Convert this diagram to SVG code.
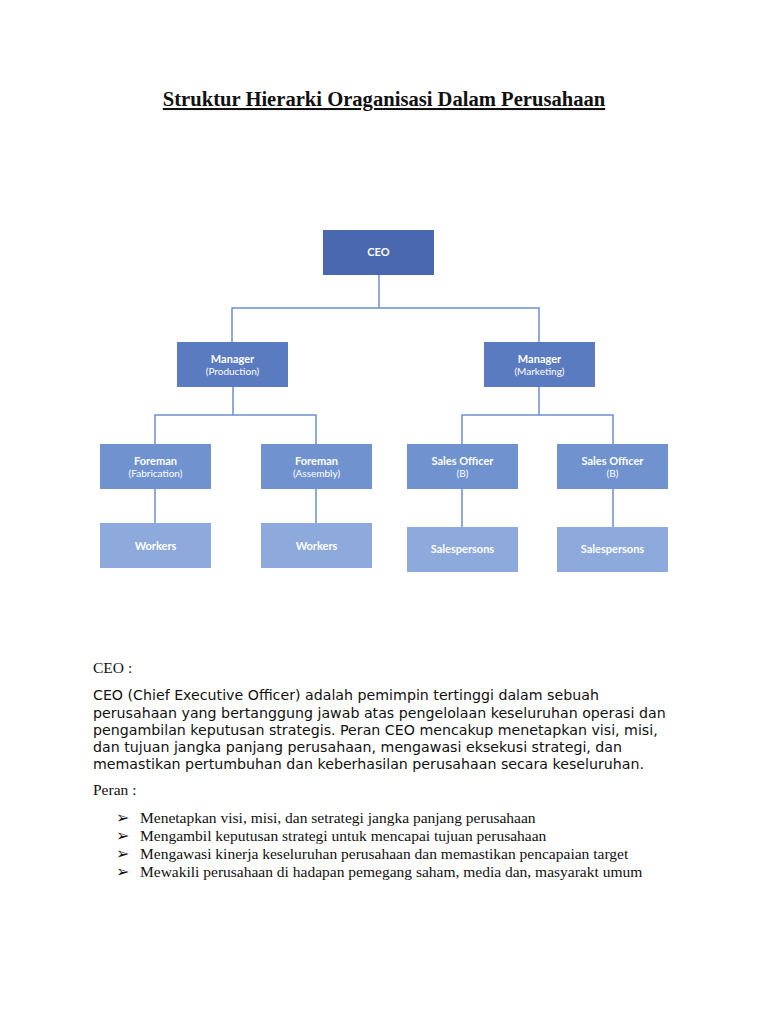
<svg xmlns="http://www.w3.org/2000/svg" width="768" height="1024" viewBox="0 0 768 1024">
<style>
.b1{fill:#4a68b0}
.b2{fill:#5b7bc0}
.b3{fill:#7093d0}
.b4{fill:#8eaadc}
.t{font-family:Lato,"Open Sans",sans-serif;fill:#fff;text-anchor:middle}
.m{font-size:11px;font-weight:bold}
.s{font-size:10px}
.c{stroke:#6d8fd0;stroke-width:1.5;fill:none}
.serif{font-family:"Liberation Serif",serif;fill:#111}
.sans{font-family:"DejaVu Sans",sans-serif;fill:#111;font-size:14.2px}
</style>
<rect width="768" height="1024" fill="#fff"/>
<text class="serif" x="384" y="106" font-size="20.6" font-weight="bold" text-anchor="middle" text-decoration="underline">Struktur Hierarki Oraganisasi Dalam Perusahaan</text>
<g id="connectors">
<path class="c" d="M379 275V308M232 342V308H539V342"/>
<path class="c" d="M233 387V415M155 444V415H316V444"/>
<path class="c" d="M539 387V415M462 444V415H613V444"/>
<path class="c" d="M155 489V523M316 489V523M462 489V527M613 489V527"/>
</g>
<g id="ceo"><rect class="b1" x="323" y="230" width="111" height="45"/><text class="t m" x="378.5" y="256">CEO</text></g>
<g id="mgr-production"><rect class="b2" x="177" y="342" width="111" height="45"/><text class="t m" x="232.5" y="363">Manager</text><text class="t s" x="232.5" y="375">(Production)</text></g>
<g id="mgr-marketing"><rect class="b2" x="484" y="342" width="111" height="45"/><text class="t m" x="539.5" y="363">Manager</text><text class="t s" x="539.5" y="375">(Marketing)</text></g>
<g id="foreman-fab"><rect class="b3" x="100" y="444" width="111" height="45"/><text class="t m" x="155.5" y="465">Foreman</text><text class="t s" x="155.5" y="477">(Fabrication)</text></g>
<g id="foreman-asm"><rect class="b3" x="261" y="444" width="111" height="45"/><text class="t m" x="316.5" y="465">Foreman</text><text class="t s" x="316.5" y="477">(Assembly)</text></g>
<g id="sales-1"><rect class="b3" x="407" y="444" width="111" height="45"/><text class="t m" x="462.5" y="465">Sales Officer</text><text class="t s" x="462.5" y="477">(B)</text></g>
<g id="sales-2"><rect class="b3" x="557" y="444" width="111" height="45"/><text class="t m" x="612.5" y="465">Sales Officer</text><text class="t s" x="612.5" y="477">(B)</text></g>
<g id="workers-1"><rect class="b4" x="100" y="523" width="111" height="45"/><text class="t m" x="155.5" y="550">Workers</text></g>
<g id="workers-2"><rect class="b4" x="261" y="523" width="111" height="45"/><text class="t m" x="316.5" y="550">Workers</text></g>
<g id="salespersons-1"><rect class="b4" x="407" y="527" width="111" height="45"/><text class="t m" x="462.5" y="553">Salespersons</text></g>
<g id="salespersons-2"><rect class="b4" x="557" y="527" width="111" height="45"/><text class="t m" x="612.5" y="553">Salespersons</text></g>
<text class="serif" x="93" y="673" font-size="15.5">CEO :</text>
<g class="sans">
<text x="93" y="700">CEO (Chief Executive Officer) adalah pemimpin tertinggi dalam sebuah</text>
<text x="93" y="718">perusahaan yang bertanggung jawab atas pengelolaan keseluruhan operasi dan</text>
<text x="93" y="735">pengambilan keputusan strategis. Peran CEO mencakup menetapkan visi, misi,</text>
<text x="93" y="752">dan tujuan jangka panjang perusahaan, mengawasi eksekusi strategi, dan</text>
<text x="93" y="769">memastikan pertumbuhan dan keberhasilan perusahaan secara keseluruhan.</text>
</g>
<text class="serif" x="93" y="795" font-size="15.5">Peran :</text>
<g class="serif" font-size="15.5">
<text x="116" y="823">➢</text><text x="140" y="823">Menetapkan visi, misi, dan setrategi jangka panjang perusahaan</text>
<text x="116" y="841">➢</text><text x="140" y="841">Mengambil keputusan strategi untuk mencapai tujuan perusahaan</text>
<text x="116" y="859">➢</text><text x="140" y="859">Mengawasi kinerja keseluruhan perusahaan dan memastikan pencapaian target</text>
<text x="116" y="877">➢</text><text x="140" y="877">Mewakili perusahaan di hadapan pemegang saham, media dan, masyarakt umum</text>
</g>
</svg>
